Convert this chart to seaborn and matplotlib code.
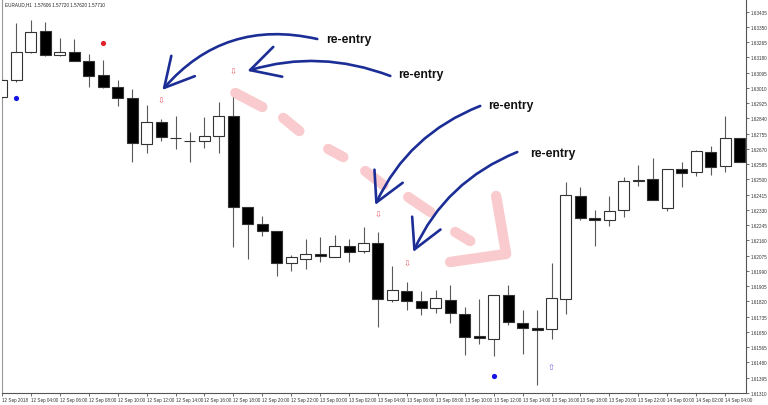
import matplotlib
matplotlib.use("Agg")
import matplotlib.pyplot as plt
from matplotlib.patches import FancyArrowPatch
import seaborn as sns
import numpy as np
import pandas as pd

chart_title = "EURAUD,H1  1.57606 1.57720 1.57620 1.57710"

# hourly candles
opens = [1.62960, 1.63054, 1.63211, 1.63328, 1.63194, 1.63211, 1.63160, 1.63082, 1.63016, 1.62954,
         1.62698, 1.62820, 1.62733, 1.62716, 1.62714, 1.62742, 1.62854, 1.62347, 1.62252, 1.62213,
         1.62035, 1.62057, 1.62085, 1.62068, 1.62129, 1.62101, 1.62146, 1.61828, 1.61878, 1.61823,
         1.61784, 1.61828, 1.61750, 1.61628, 1.61611, 1.61856, 1.61700, 1.61672, 1.61667, 1.61834,
         1.62408, 1.62285, 1.62274, 1.62330, 1.62492, 1.62503, 1.62341, 1.62558, 1.62542, 1.62653,
         1.62575, 1.62731]
highs = [1.63071, 1.63372, 1.63389, 1.63378, 1.63289, 1.63283, 1.63199, 1.63166, 1.63054, 1.63004,
         1.62915, 1.62837, 1.62854, 1.62765, 1.62848, 1.62932, 1.62960, 1.62347, 1.62296, 1.62213,
         1.62079, 1.62168, 1.62179, 1.62191, 1.62168, 1.62235, 1.62207, 1.62018, 1.61929, 1.61878,
         1.61884, 1.61912, 1.61789, 1.61834, 1.61856, 1.61912, 1.61773, 1.61773, 1.62035, 1.62486,
         1.62458, 1.62330, 1.62408, 1.62514, 1.62581, 1.62620, 1.62558, 1.62597, 1.62664, 1.62687,
         1.62854, 1.62731]
lows = [1.62949, 1.63043, 1.63205, 1.63188, 1.63188, 1.63160, 1.63016, 1.63010, 1.62910, 1.62597,
        1.62648, 1.62714, 1.62670, 1.62597, 1.62675, 1.62648, 1.62124, 1.62057, 1.62185, 1.61962,
        1.61990, 1.62001, 1.62040, 1.62068, 1.62040, 1.62090, 1.61678, 1.61817, 1.61773, 1.61745,
        1.61756, 1.61700, 1.61522, 1.61583, 1.61516, 1.61689, 1.61527, 1.61354, 1.61611, 1.61750,
        1.62274, 1.62129, 1.62241, 1.62291, 1.62464, 1.62386, 1.62324, 1.62458, 1.62519, 1.62525,
        1.62542, 1.62597]
closes = [1.63054, 1.63211, 1.63322, 1.63194, 1.63211, 1.63160, 1.63077, 1.63016, 1.62954, 1.62703,
          1.62820, 1.62737, 1.62731, 1.62714, 1.62742, 1.62854, 1.62347, 1.62252, 1.62213, 1.62035,
          1.62068, 1.62085, 1.62074, 1.62129, 1.62096, 1.62146, 1.61834, 1.61884, 1.61823, 1.61784,
          1.61839, 1.61756, 1.61622, 1.61616, 1.61856, 1.61706, 1.61672, 1.61661, 1.61839, 1.62414,
          1.62285, 1.62274, 1.62324, 1.62492, 1.62497, 1.62386, 1.62558, 1.62536, 1.62659, 1.62570,
          1.62731, 1.62597]

time_labels = ["12 Sep 2018", "12 Sep 04:00", "12 Sep 06:00", "12 Sep 08:00", "12 Sep 10:00",
               "12 Sep 12:00", "12 Sep 14:00", "12 Sep 16:00", "12 Sep 18:00", "12 Sep 20:00",
               "12 Sep 22:00", "13 Sep 00:00", "13 Sep 02:00", "13 Sep 04:00", "13 Sep 06:00",
               "13 Sep 08:00", "13 Sep 10:00", "13 Sep 12:00", "13 Sep 14:00", "13 Sep 16:00",
               "13 Sep 18:00", "13 Sep 20:00", "13 Sep 22:00", "14 Sep 00:00", "14 Sep 02:00",
               "14 Sep 04:00"]
price_ticks = [1.63435, 1.63350, 1.63265, 1.63180, 1.63095, 1.63010, 1.62925, 1.62840, 1.62755,
               1.62670, 1.62585, 1.62500, 1.62415, 1.62330, 1.62245, 1.62160, 1.62075, 1.61990,
               1.61905, 1.61820, 1.61735, 1.61650, 1.61565, 1.61480, 1.61395, 1.61310]

# indicator marks
red_dot_bar = [7]
red_dot_price = [1.63261]
blue_dot_bar = [1, 34]
blue_dot_price = [1.62954, 1.61405]
sell_arrow_bar = [11, 16, 26, 28]
sell_arrow_price = [1.62943, 1.63105, 1.62308, 1.62035]
buy_arrow_bar = [38]
buy_arrow_price = [1.61460]

# hand-drawn notes
note_bar = [22.43, 27.40, 33.62, 36.52]
note_price = [1.63283, 1.63088, 1.62915, 1.62648]
arrow_from_bar = [21.80, 26.85, 33.07, 35.63]
arrow_from_price = [1.63283, 1.63077, 1.62910, 1.62653]
arrow_to_bar = [11.09, 16.97, 25.81, 28.44]
arrow_to_price = [1.62999, 1.63105, 1.62358, 1.62096]
arrow_bend = [0.3, 0.17, 0.2, 0.2]

# pink marker strokes (bar, price) pairs
pink_strokes = [
    ([16.14, 18.00], [1.62982, 1.62904]),
    ([19.45, 20.56], [1.62843, 1.62770]),
    ([22.56, 23.60], [1.62670, 1.62625]),
    ([25.12, 26.37], [1.62547, 1.62469]),
    ([28.09, 29.61], [1.62402, 1.62319]),
    ([31.34, 32.38], [1.62207, 1.62157]),
    ([34.17, 34.86, 30.99], [1.62408, 1.62085, 1.62040]),
]

df = pd.DataFrame({"open": opens, "high": highs, "low": lows, "close": closes})
df["bar"] = np.arange(len(df))
df["up"] = df["close"] >= df["open"]
df["bottom"] = df[["open", "close"]].min(axis=1)
df["body"] = (df["close"] - df["open"]).abs()

sns.set_style("white")
plt.rcParams["font.family"] = ["Liberation Sans", "DejaVu Sans"]

fig = plt.figure(figsize=(7.68, 4.06), dpi=100)
ax = fig.add_axes([0.0026, 0.0296, 0.9688, 0.9704])

# pink strokes under everything
for xs, ys in pink_strokes:
    ax.plot(xs, ys, color="#f6a9ae", alpha=0.6, lw=7.5,
            solid_capstyle="round", solid_joinstyle="round", zorder=1)

ax.vlines(df["bar"], df["low"], df["high"], color="#5a5a5a", lw=0.8, zorder=2)
ax.bar(df["bar"], df["body"], bottom=df["bottom"], width=0.76,
       color=np.where(df["up"], "white", "black"), edgecolor="#333333",
       linewidth=0.8, zorder=3)

sns.scatterplot(x=red_dot_bar, y=red_dot_price, color="#e3202a", s=14,
                linewidth=0, ax=ax, zorder=4)
sns.scatterplot(x=blue_dot_bar, y=blue_dot_price, color="#1414e6", s=14,
                linewidth=0, ax=ax, zorder=4)
for bx, py in zip(sell_arrow_bar, sell_arrow_price):
    ax.text(bx, py, "\u21e9", color="#e8606a", fontsize=6, ha="center",
            va="center", family="DejaVu Sans", zorder=4)
for bx, py in zip(buy_arrow_bar, buy_arrow_price):
    ax.text(bx, py, "\u21e7", color="#6a6ae0", fontsize=6, ha="center",
            va="center", family="DejaVu Sans", zorder=4)

for i in range(len(note_bar)):
    arr = FancyArrowPatch((arrow_from_bar[i], arrow_from_price[i]),
                          (arrow_to_bar[i], arrow_to_price[i]),
                          connectionstyle="arc3,rad=%s" % arrow_bend[i],
                          arrowstyle="->,head_length=1.3,head_width=0.7",
                          mutation_scale=16, color="#1c2e96", lw=1.9,
                          shrinkA=0, shrinkB=0, zorder=5,
                          capstyle="round", joinstyle="round")
    ax.add_patch(arr)
    ax.text(note_bar[i], note_price[i], "re-entry", fontsize=8.7,
            fontweight="bold", color="#111111", ha="left", va="center", zorder=5)

ax.text(0.004, 0.987, chart_title, transform=ax.transAxes, fontsize=3.3,
        color="#222222", ha="left", va="center")

ax.set_xlim(0.03, 51.45)
ax.set_ylim(1.61310, 1.63506)

ax.yaxis.tick_right()
ax.set_yticks(price_ticks)
ax.set_yticklabels(["%.5f" % v for v in price_ticks])
ax.set_xticks(np.arange(0, 52, 2))
ax.set_xticklabels(time_labels, ha="left")
ax.tick_params(axis="y", right=True, left=False, length=2, width=0.5,
               labelsize=3.3, pad=1.5, colors="#333333")
ax.tick_params(axis="x", bottom=True, length=2, width=0.5, labelsize=3.3,
               pad=1, colors="#333333")

ax.spines["top"].set_visible(False)
ax.spines["left"].set_color("#999999")
for side in ["right", "bottom"]:
    ax.spines[side].set_color("#555555")
for side in ["left", "right", "bottom"]:
    ax.spines[side].set_linewidth(0.8)

fig.savefig("out.png", dpi=100)
